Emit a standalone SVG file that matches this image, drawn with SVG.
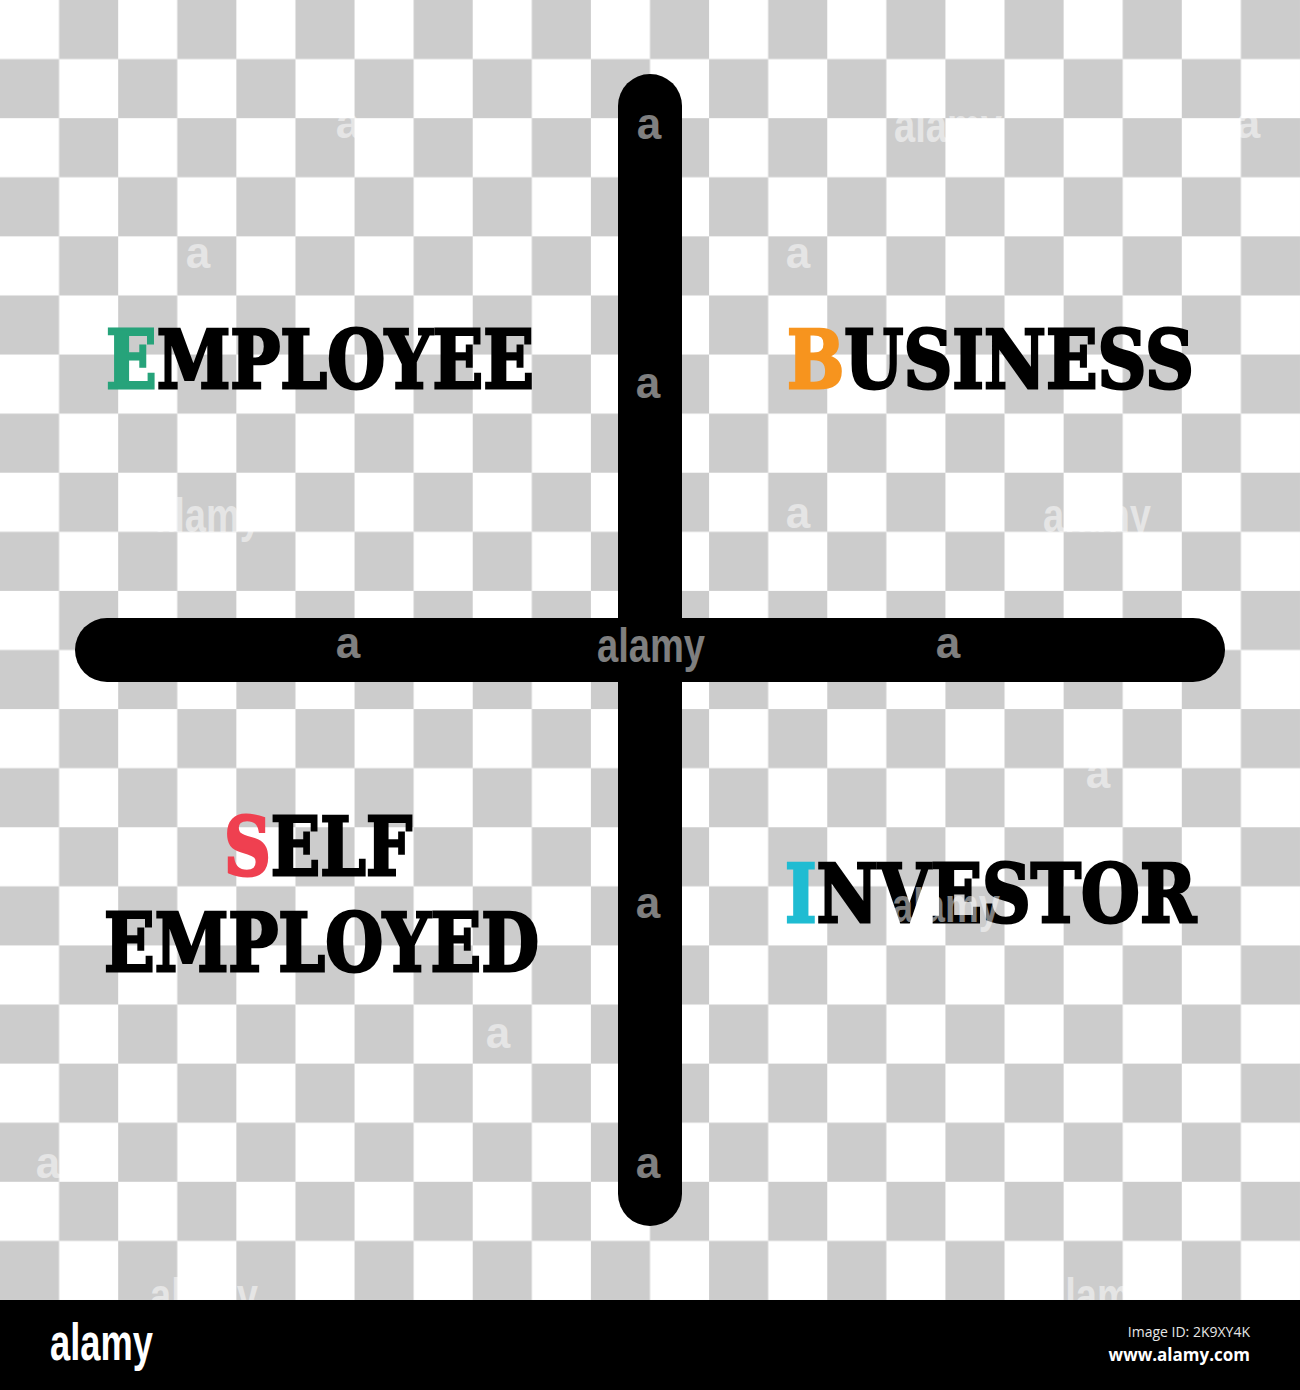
<svg xmlns="http://www.w3.org/2000/svg" width="1300" height="1390" viewBox="0 0 1300 1390">
<defs>
<pattern id="checker" x="0" y="0" width="118.18" height="118.18" patternUnits="userSpaceOnUse">
<rect x="0" y="0" width="118.18" height="118.18" fill="#ffffff"/>
<rect x="59.09" y="0" width="59.09" height="59.09" fill="#cccccc"/>
<rect x="0" y="59.09" width="59.09" height="59.09" fill="#cccccc"/>
</pattern>
<style>
.lbl{font-family:"DejaVu Serif","Liberation Serif",serif;font-weight:bold;font-size:80px;fill:#000;stroke:#000;stroke-width:3;stroke-linejoin:miter}
.green{fill:#26a37a;stroke:#26a37a}
.orange{fill:#f7941e;stroke:#f7941e}
.red{fill:#ef4050;stroke:#ef4050}
.cyan{fill:#1fbcd2;stroke:#1fbcd2}
.wmA{font-family:"Liberation Sans",Arial,sans-serif;font-weight:bold;font-size:44px;fill:#ffffff;fill-opacity:0.5;text-anchor:middle}
.wmB{font-family:"Liberation Sans",Arial,sans-serif;font-weight:bold;font-size:48px;fill:#ffffff;fill-opacity:0.5}
.bar{stroke:#000;stroke-width:64;stroke-linecap:round;fill:none}
</style>
</defs>
<rect id="background" x="0" y="0" width="1300" height="1300" fill="url(#checker)"/>
<g id="cross">
<line class="bar" x1="650" y1="106" x2="650" y2="1194"/>
<line class="bar" x1="107" y1="650" x2="1193" y2="650"/>
</g>
<g id="employee">
<text class="lbl" x="106" y="388" textLength="428" lengthAdjust="spacingAndGlyphs"><tspan class="green">E</tspan>MPLOYEE</text>
</g>
<g id="business">
<text class="lbl" x="787" y="388" textLength="407" lengthAdjust="spacingAndGlyphs"><tspan class="orange">B</tspan>USINESS</text>
</g>
<g id="self-employed">
<text class="lbl" x="224" y="875" textLength="188" lengthAdjust="spacingAndGlyphs"><tspan class="red">S</tspan>ELF</text>
<text class="lbl" x="104" y="971" textLength="435" lengthAdjust="spacingAndGlyphs">EMPLOYED</text>
</g>
<g id="investor">
<text class="lbl" x="785" y="922" textLength="411" lengthAdjust="spacingAndGlyphs"><tspan class="cyan">I</tspan>NVESTOR</text>
</g>
<g id="watermarks">
<text class="wmA" x="348" y="138">a</text>
<text class="wmA" x="649" y="139">a</text>
<text class="wmA" x="1248" y="138">a</text>
<text class="wmA" x="198" y="268">a</text>
<text class="wmA" x="798" y="268">a</text>
<text class="wmA" x="648" y="398">a</text>
<text class="wmA" x="798" y="528">a</text>
<text class="wmA" x="348" y="658">a</text>
<text class="wmA" x="948" y="658">a</text>
<text class="wmA" x="1098" y="788">a</text>
<text class="wmA" x="648" y="918">a</text>
<text class="wmA" x="498" y="1048">a</text>
<text class="wmA" x="48" y="1178">a</text>
<text class="wmA" x="648" y="1178">a</text>
<text class="wmB" x="894" y="142" textLength="108" lengthAdjust="spacingAndGlyphs">alamy</text>
<text class="wmB" x="153" y="532" textLength="108" lengthAdjust="spacingAndGlyphs">alamy</text>
<text class="wmB" x="1043" y="532" textLength="108" lengthAdjust="spacingAndGlyphs">alamy</text>
<text class="wmB" x="597" y="662" textLength="108" lengthAdjust="spacingAndGlyphs">alamy</text>
<text class="wmB" x="892" y="922" textLength="108" lengthAdjust="spacingAndGlyphs">alamy</text>
<text class="wmB" x="150" y="1312" textLength="108" lengthAdjust="spacingAndGlyphs">alamy</text>
<text class="wmB" x="1044" y="1312" textLength="108" lengthAdjust="spacingAndGlyphs">alamy</text>
</g>
<g id="footer">
<rect x="0" y="1300" width="1300" height="90" fill="#000"/>
<text x="50" y="1360" font-family="Liberation Sans, Arial, sans-serif" font-weight="bold" font-size="52" fill="#fff" textLength="103" lengthAdjust="spacingAndGlyphs">alamy</text>
<text x="1250" y="1337" font-family="Open Sans, Liberation Sans, sans-serif" font-size="14" fill="#e6e6e6" text-anchor="end">Image ID: 2K9XY4K</text>
<text x="1250" y="1361" font-family="Open Sans, Liberation Sans, sans-serif" font-weight="bold" font-size="17" fill="#fff" text-anchor="end">www.alamy.com</text>
</g>
</svg>
